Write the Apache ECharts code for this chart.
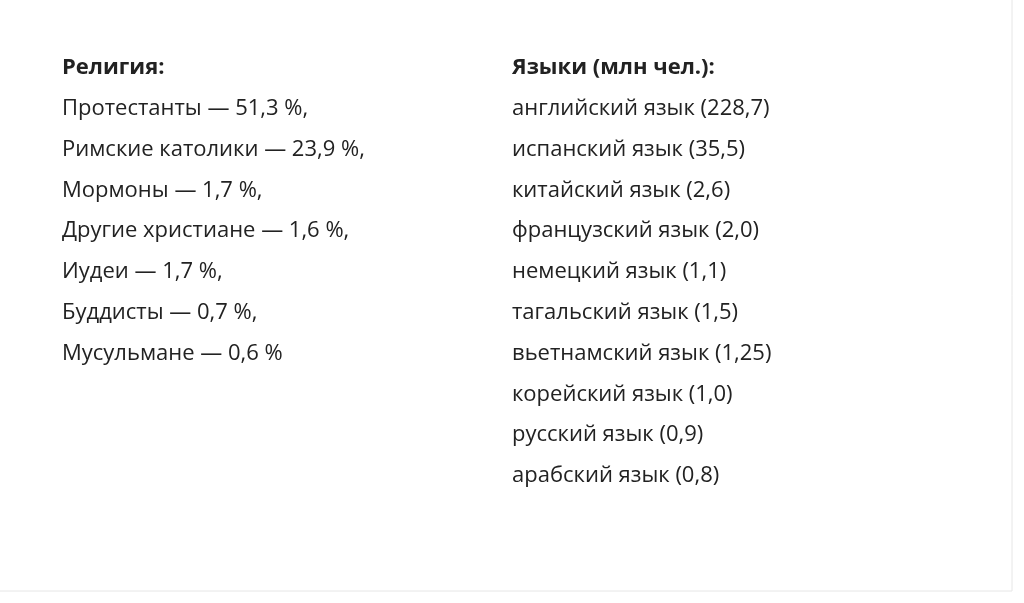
<!DOCTYPE html>
<html><head><meta charset="utf-8">
<script src="https://cdn.jsdelivr.net/npm/echarts@6/dist/echarts.min.js"></script>
<style>html,body{margin:0;padding:0;background:#fff}#c{width:1024px;height:603px}</style>
</head><body><div id="c"></div>
<script>
const religionTitle = 'Религия:';
const religions = ['Протестанты','Римские католики','Мормоны','Другие христиане','Иудеи','Буддисты','Мусульмане'];
const religionShares = [51.3, 23.9, 1.7, 1.6, 1.7, 0.7, 0.6];
const languageTitle = 'Языки (млн чел.):';
const languages = ['английский язык','испанский язык','китайский язык','французский язык','немецкий язык','тагальский язык','вьетнамский язык','корейский язык','русский язык','арабский язык'];
const speakers = [228.7, 35.5, 2.6, 2.0, 1.1, 1.5, 1.25, 1.0, 0.9, 0.8];

function fmt(v){ let s = String(v); if (s.indexOf('.') < 0) s += '.0'; return s.replace('.', ','); }
const font = '22px "Open Sans", sans-serif';
const step = 40.8, top0 = 68;
const els = [
  {type:'line', shape:{x1:1012,y1:0,x2:1012,y2:591}, style:{stroke:'#e6e6e6', lineWidth:1}},
  {type:'line', shape:{x1:0,y1:591,x2:1012,y2:591}, style:{stroke:'#e6e6e6', lineWidth:1}}
];
function add(x, i, text, bold){
  els.push({type:'text', x:x, y: top0 + i*step,
    style:{text:text, font:(bold?'bold ':'')+font, fill:'#222', textVerticalAlign:'middle', verticalAlign:'middle'}});
}
add(62, 0, religionTitle, true);
religions.forEach((r,i)=>add(62, i+1, r + ' — ' + fmt(religionShares[i]) + ' %' + (i < religions.length-1 ? ',' : ''), false));
add(512, 0, languageTitle, true);
languages.forEach((l,i)=>add(512, i+1, l + ' (' + fmt(speakers[i]) + ')', false));

const chart = echarts.init(document.getElementById('c'));
chart.setOption({ backgroundColor:'#fff', animation:false, graphic: els });
</script></body></html>
